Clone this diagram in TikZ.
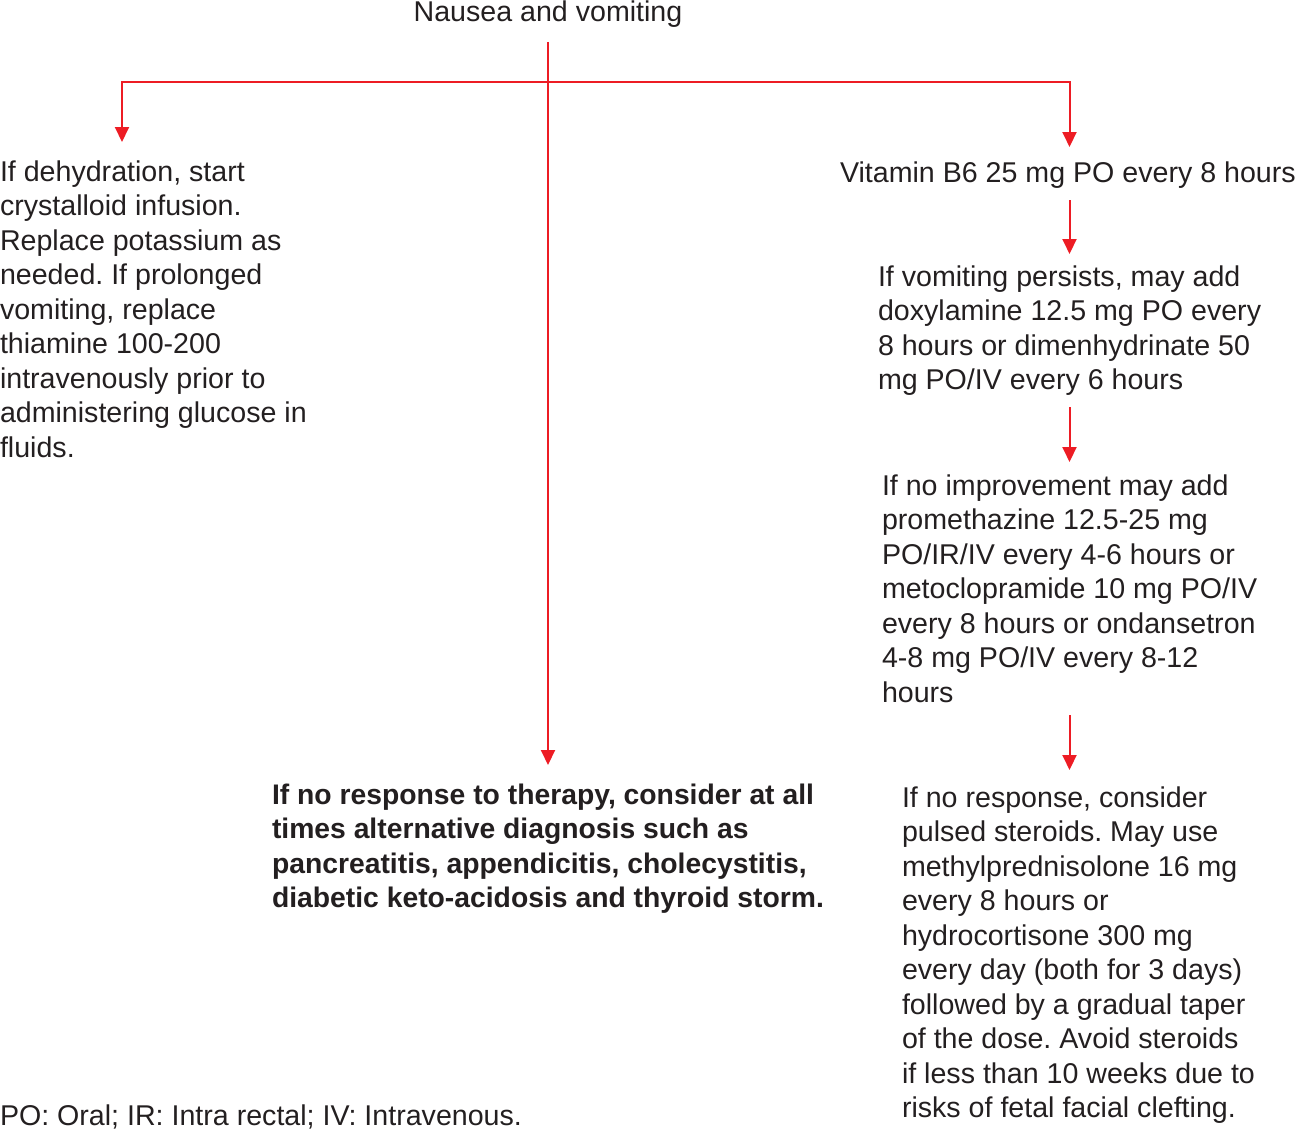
\documentclass[tikz,border=0pt]{standalone}
\usepackage{fontspec}
\setmainfont{Liberation Sans}
\usetikzlibrary{arrows.meta}
\definecolor{flowred}{HTML}{ED1C24}
\definecolor{ink}{HTML}{231F20}
\newcommand{\topst}{\rule{0pt}{24pt}}
\newcommand{\botst}{\rule[-8pt]{0pt}{8pt}}
\frenchspacing
\begin{document}
\begin{tikzpicture}[x=1pt,y=-1pt,
  txt/.style={inner sep=0pt, outer sep=0pt, align=left, anchor=north west, text=ink,
    font=\fontsize{28.6pt}{34.5pt}\selectfont\frenchspacing},
  arr/.style={draw=flowred, line width=2pt, -{Triangle[width=14pt,length=15pt]}}]
\useasboundingbox (0,0) rectangle (1297,1132);
% nodes
\node[txt, anchor=north] (nv) at (548,-2) {\topst Nausea and vomiting\botst};
\node[txt] (lt) at (0,157) {\topst If dehydration, start\\crystalloid infusion.\\Replace potassium as\\needed. If prolonged\\vomiting, replace\\thiamine 100-200\\intravenously prior to\\administering glucose in\\fluids.\botst};
\node[txt] (vit) at (840,158) {\topst Vitamin B6 25 mg PO every 8 hours\botst};
\node[txt] (vom) at (878,262) {\topst If vomiting persists, may add\\doxylamine 12.5 mg PO every\\8 hours or dimenhydrinate 50\\mg PO/IV every 6 hours\botst};
\node[txt] (imp) at (882,471) {\topst If no improvement may add\\promethazine 12.5-25 mg\\PO/IR/IV every 4-6 hours or\\metoclopramide 10 mg PO/IV\\every 8 hours or ondansetron\\4-8 mg PO/IV every 8-12\\hours\botst};
\node[txt] (nr) at (902,783) {\topst If no response, consider\\pulsed steroids. May use\\methylprednisolone 16 mg\\every 8 hours or\\hydrocortisone 300 mg\\every day (both for 3 days)\\followed by a gradual taper\\of the dose. Avoid steroids\\if less than 10 weeks due to\\risks of fetal facial clefting.\botst};
\node[txt, font=\fontsize{28.3pt}{34.5pt}\selectfont\bfseries\frenchspacing] (bold) at (272,780) {\topst If no response to therapy, consider at all\\times alternative diagnosis such as\\pancreatitis, appendicitis, cholecystitis,\\diabetic keto-acidosis and thyroid storm.\botst};
\node[txt] (foot) at (0,1101) {\topst PO: Oral; IR: Intra rectal; IV: Intravenous.\botst};
% helper coordinates
\coordinate (j) at (548,82);
\coordinate (lx) at (122,0);
\coordinate (rx) at (1069.5,0);
\coordinate (cx) at (548,0);
% connectors
\draw[arr, shorten <=12pt, shorten >=15pt] (nv.south -| cx) -- (bold.north -| cx);
\draw[arr, shorten >=15pt] (j) -| (lt.north -| lx);
\draw[arr, shorten >=11pt] (j) -| (vit.north -| rx);
\draw[arr, shorten <=10pt, shorten >=8pt] (vit.south -| rx) -- (vom.north -| rx);
\draw[arr, shorten <=9.5pt, shorten >=9pt] (vom.south -| rx) -- (imp.north -| rx);
\draw[arr, shorten <=5pt, shorten >=13pt] (imp.south -| rx) -- (nr.north -| rx);
\end{tikzpicture}
\end{document}
